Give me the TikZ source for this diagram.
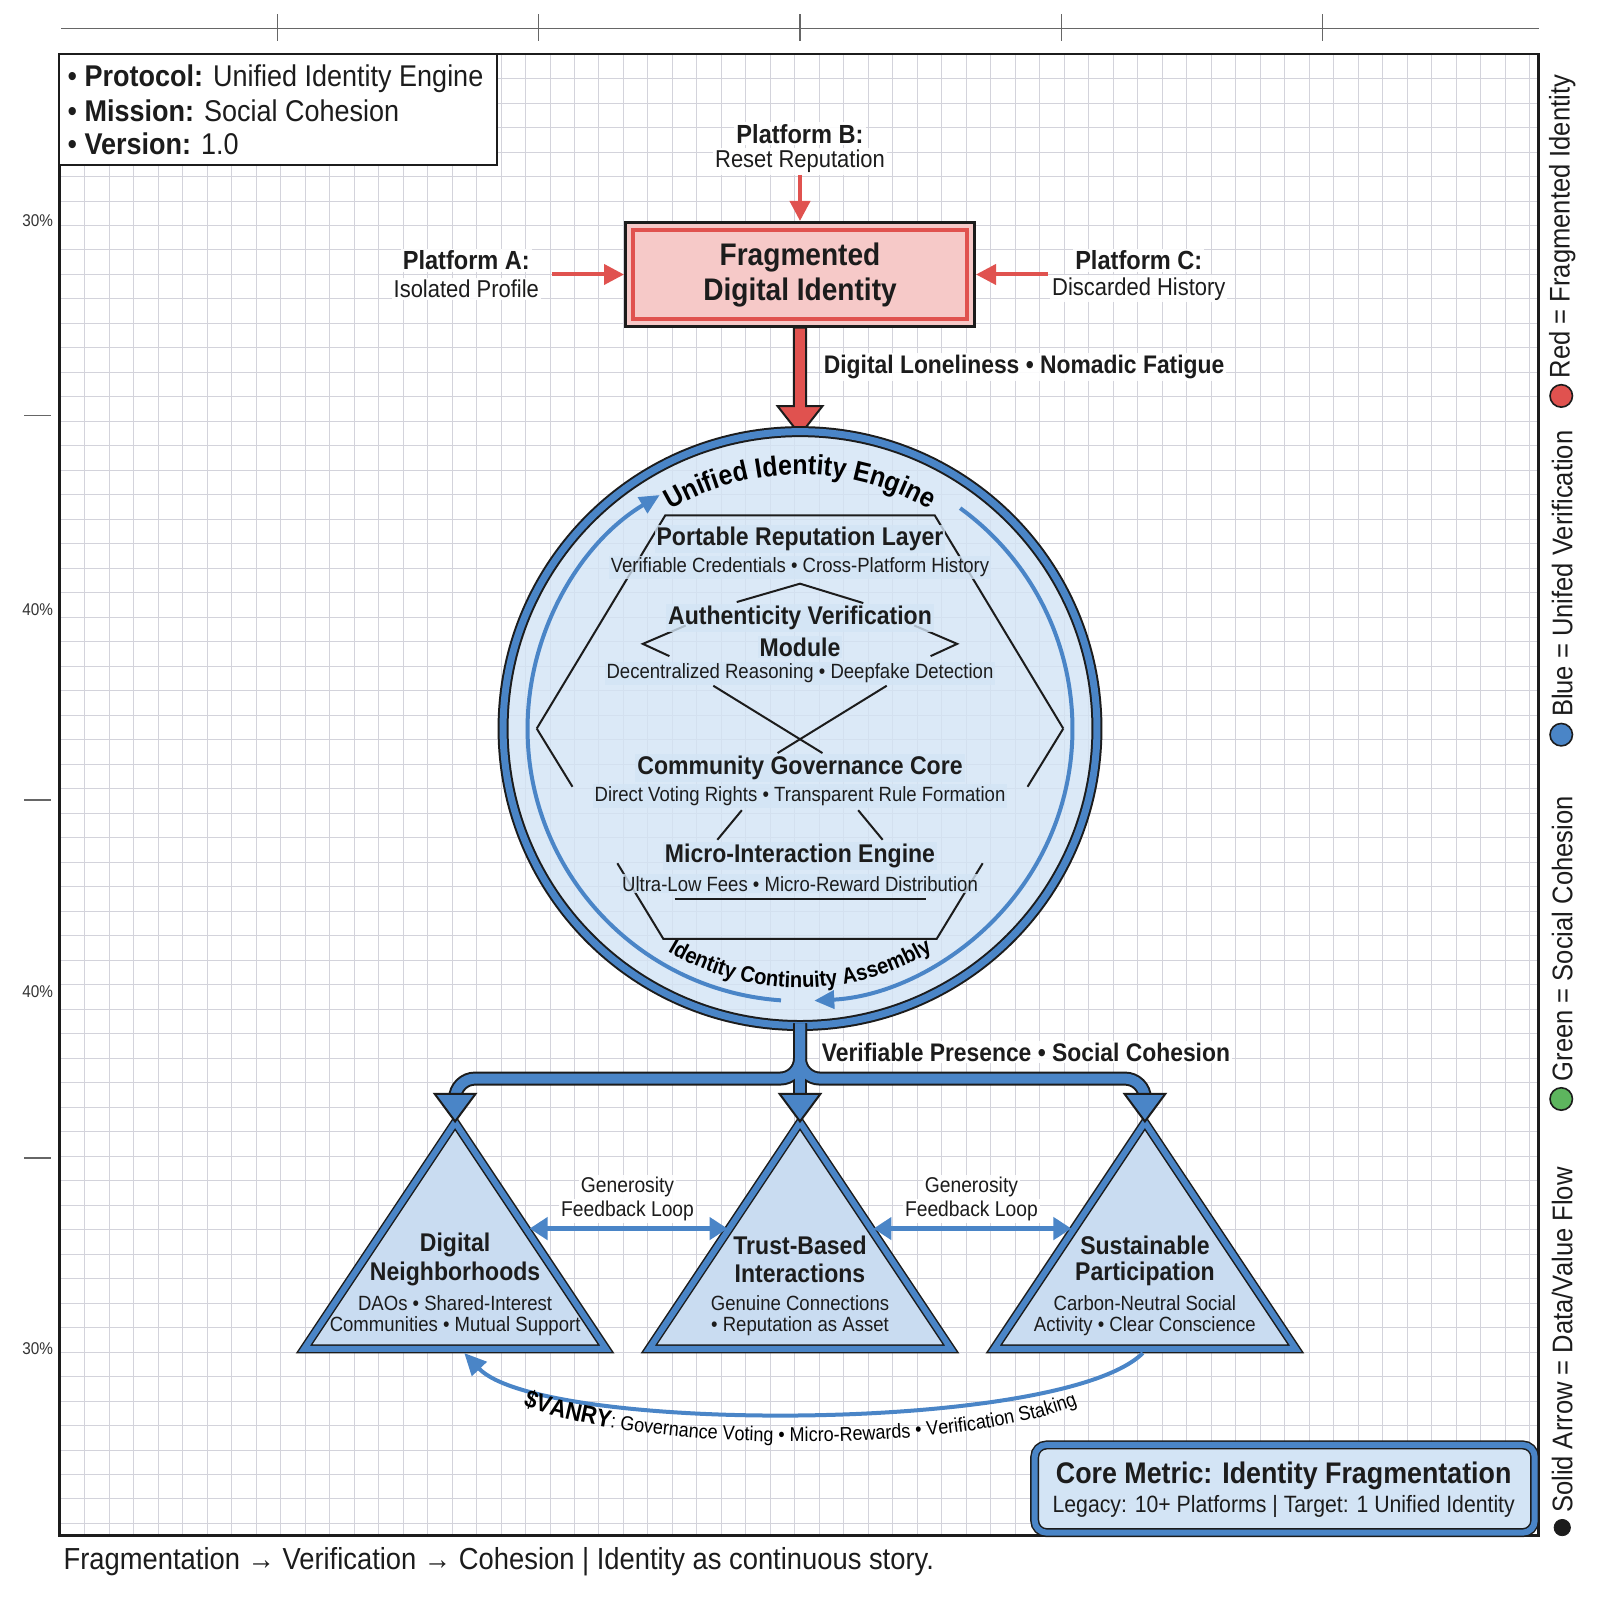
\documentclass[tikz,border=0pt]{standalone}
\usepackage{fontspec}
\setmainfont{Liberation Sans}[FakeStretch=0.9]
\usetikzlibrary{arrows.meta,decorations.text}
\definecolor{gridc}{HTML}{D3D3DB}
\definecolor{ink}{HTML}{1C1C1C}
\definecolor{redc}{HTML}{E0524F}
\definecolor{redfill}{HTML}{F6C9C8}
\definecolor{bluec}{HTML}{4A85C7}
\definecolor{bluefill}{HTML}{D3E4F5}
\definecolor{trifill}{HTML}{C9DCF1}
\definecolor{greenc}{HTML}{5DB55E}
\newcommand\fsz[1]{\fontsize{#1}{\fpeval{1.2*#1}}\selectfont}
\tikzset{
  plt/.style={font=\fsz{13.1}\bfseries},
  pls/.style={font=\fsz{12.2}},
  lbl/.style={font=\fsz{12.7}\bfseries},
  ttl/.style={font=\fsz{12.8}\bfseries},
  sbt/.style={font=\fsz{10.3}},
  gen/.style={font=\fsz{10.7}},
  inbg/.style={fill=bluefill, fill opacity=0.8, text opacity=1},
  wbg/.style={fill=white, fill opacity=0.9, text opacity=1},
  redarrow/.style={redc, line width=2pt, -{Triangle[length=10pt,width=10pt]}},
  hexline/.style={ink, line width=1pt},
  legtext/.style={rotate=90, anchor=west, font=\fsz{14.2}},
}
\begin{document}
\begin{tikzpicture}[x=0.5102pt,y=-0.5102pt, every node/.style={inner sep=1pt,text=ink}]
\useasboundingbox (0,0) rectangle (1568,1568);
\fill[white] (0,0) rectangle (1568,1568);
% grid
\foreach \i in {1,...,60} {\draw[gridc,line width=0.5pt] ({59+24*\i},53) -- ({59+24*\i},1505);}
\foreach \j in {1,...,60} {\draw[gridc,line width=0.5pt] (59,{53+24*\j}) -- (1508,{53+24*\j});}
% frame
\draw[ink,line width=1.4pt] (58,53) rectangle (1508,1505);
% top ruler
\draw[black!60, line width=0.7pt] (60,28) -- (1508,28);
\foreach \x in {272,528,784,1040,1296} {\draw[black!60, line width=0.7pt] (\x,14) -- (\x,40);}
% left ruler
\foreach \y/\t in {216/30\%,597/40\%,972/40\%,1322/30\%} {\node[font=\fsz{8.5}, text=black!80] at (37,\y) {\t};}
\foreach \y in {407,784,1135} {\draw[black!60, line width=0.7pt] (24,\y) -- (50,\y);}
% info box
\draw[ink, fill=white, line width=1.1pt] (58,53) rectangle (487,162);
\node (info1) [anchor=west, font=\fsz{15}] at (64,77) {• \textbf{Protocol:} Unified Identity Engine};
\node (info2) [anchor=west, font=\fsz{15}] at (64,109) {• \textbf{Mission:} Social Cohesion};
\node (info3) [anchor=west, font=\fsz{15}] at (64,141) {• \textbf{Version:} 1.0};
% red box
\node (frag) [draw=ink, line width=1.5pt, fill=redfill, minimum width=174.5pt, minimum height=52pt] at (784,269) {};
\node (fragin) [draw=redc, line width=2.3pt, minimum width=167pt, minimum height=44.5pt] at (784,269) {};
\node (fragt1) [font=\fsz{15.6}\bfseries] at (784,252) {Fragmented};
\node (fragt2) [font=\fsz{15.6}\bfseries] at (784,287) {Digital Identity};
% platforms
\node (pbt) [plt, wbg] at (784,131) {Platform B:};
\node (pbs) [pls, wbg] at (784,158) {Reset Reputation};
\node (pat) [plt, wbg] at (457,255) {Platform A:};
\node (pas) [pls, wbg] at (457,283) {Isolated Profile};
\node (pct) [plt, wbg] at (1116,255) {Platform C:};
\node (pcs) [pls, wbg] at (1116,283) {Discarded History};
\coordinate (pa) at (541,269);
\coordinate (pc) at (1027,269);
\draw[redarrow] (pbs.south) -- (frag.north);
\draw[redarrow] (pa) -- (frag.west);
\draw[redarrow] (pc) -- (frag.east);
% big red arrow
\filldraw[fill=redc, draw=ink, line width=1pt] (778,321) -- (778,398) -- (762,398) -- (784,426) -- (806,398) -- (790,398) -- (790,321) -- cycle;
\node (lone) [anchor=west, lbl, wbg] at (805,360) {Digital Loneliness • Nomadic Fatigue};
% circle
\fill[bluefill, opacity=0.8] (784,714) circle[radius=291];
\draw[ink, line width=5.5pt] (784,714) circle[radius=291];
\draw[bluec, line width=3.5pt] (784,714) circle[radius=291];
\draw[bluec, line width=2pt, -{Triangle[length=10pt,width=9pt]}] (784,714) ++(-54:267) arc[start angle=-54, end angle=87, radius=267];
\draw[bluec, line width=2pt, -{Triangle[length=10pt,width=9pt]}] (784,714) ++(-266:267) arc[start angle=-266, end angle=-121, radius=267];
\path[decorate, decoration={text along path, text align=center, text={|\fsz{13.9}\bfseries|Unified Identity Engine}}] (784,714) ++(-132:249) arc[start angle=-132, end angle=-48, radius=249];
\path[decorate, decoration={text along path, text align=center, text={|\fsz{11.2}\bfseries|Identity Continuity Assembly}}] (784,714) ++(-230:254) arc[start angle=-230, end angle=-310, radius=254];
% hexagon
\draw[hexline] (526,714) -- (652,505) -- (916,505) -- (1042,714);
\draw[hexline] (526,714) -- (561,771);
\draw[hexline] (1042,714) -- (1007,771);
\draw[hexline] (605,846) -- (650,920) -- (918,920) -- (963,846);
% inner connectors
\draw[hexline] (722,590) -- (784,572) -- (846,591);
\draw[hexline] (672,613) -- (630,631) -- (656,643);
\draw[hexline] (896,613) -- (938,631) -- (912,643);
\draw[hexline] (699,672) -- (806,738);
\draw[hexline] (869,672) -- (762,738);
\draw[hexline] (727,794) -- (703,823);
\draw[hexline] (841,794) -- (865,823);
\draw[hexline] (661,881) -- (907,881);
% circle texts
\node (l1t) [ttl, inbg] at (784,528) {Portable Reputation Layer};
\node (l1s) [sbt, inbg] at (784,556) {Verifiable Credentials • Cross-Platform History};
\node (l2t) [ttl, inbg] at (784,606) {Authenticity Verification};
\node (l2m) [ttl, inbg] at (784,634) {Module};
\node (l2s) [sbt, inbg] at (784,660) {Decentralized Reasoning • Deepfake Detection};
\node (l3t) [ttl, inbg] at (784,753) {Community Governance Core};
\node (l3s) [sbt, inbg] at (784,780) {Direct Voting Rights • Transparent Rule Formation};
\node (l4t) [ttl, inbg] at (784,839) {Micro-Interaction Engine};
\node (l4s) [sbt, inbg] at (784,866) {Ultra-Low Fees • Micro-Reward Distribution};
% fork
\foreach \lw/\c in {7pt/ink,5pt/bluec} {
  \draw[\c, line width=\lw, rounded corners=10pt] (784,1003) -- (784,1057) -- (446,1057) -- (446,1078);
  \draw[\c, line width=\lw, rounded corners=10pt] (784,1003) -- (784,1057) -- (1122,1057) -- (1122,1078);
  \draw[\c, line width=\lw] (784,1040) -- (784,1078);
}
\node (pres) [anchor=west, lbl, wbg] at (803,1031) {Verifiable Presence • Social Cohesion};
% triangles
\foreach \cx in {446,784,1122} {
  \filldraw[fill=trifill, draw=ink, line width=4.5pt, line join=miter] (\cx,1100) -- ({\cx+148},1322) -- ({\cx-148},1322) -- cycle;
  \draw[bluec, line width=3pt, line join=miter] (\cx,1100) -- ({\cx+148},1322) -- ({\cx-148},1322) -- cycle;
  \filldraw[fill=bluec, draw=ink, line width=1pt] ({\cx-20},1072) -- ({\cx+20},1072) -- (\cx,1099) -- cycle;
}
\node (t1a) [ttl] at (446,1220) {Digital};
\node (t1b) [ttl] at (446,1248) {Neighborhoods};
\node (t1c) [sbt] at (446,1277) {DAOs • Shared-Interest};
\node (t1d) [sbt] at (446,1300) {Communities • Mutual Support};
\node (t2a) [ttl] at (784,1220) {Trust-Based};
\node (t2b) [ttl] at (784,1248) {Interactions};
\node (t2c) [sbt] at (784,1277) {Genuine Connections};
\node (t2d) [sbt] at (784,1300) {• Reputation as Asset};
\node (t3a) [ttl] at (1122,1220) {Sustainable};
\node (t3b) [ttl] at (1122,1248) {Participation};
\node (t3c) [sbt] at (1122,1277) {Carbon-Neutral Social};
\node (t3d) [sbt] at (1122,1300) {Activity • Clear Conscience};
% generosity
\node (g1a) [gen, wbg] at (615,1163) {Generosity};
\node (g1b) [gen, wbg] at (615,1187) {Feedback Loop};
\node (g2a) [gen, wbg] at (952,1163) {Generosity};
\node (g2b) [gen, wbg] at (952,1187) {Feedback Loop};
\coordinate (ga1) at (519,1204); \coordinate (ga2) at (713,1204);
\coordinate (gb1) at (856,1204); \coordinate (gb2) at (1050,1204);
\draw[bluec, line width=2.5pt, {Triangle[length=9pt,width=11pt]}-{Triangle[length=9pt,width=11pt]}] (ga1) -- (ga2);
\draw[bluec, line width=2.5pt, {Triangle[length=9pt,width=11pt]}-{Triangle[length=9pt,width=11pt]}] (gb1) -- (gb2);
% vanry arrow
\coordinate (vs) at (1120,1326); \coordinate (ve) at (455,1326);
\draw[bluec, line width=2pt, -{Triangle[length=11pt,width=10pt]}] (vs) .. controls (1040,1405) and (530,1405) .. (ve);
\path[decorate, decoration={text along path, text align=center, text={|\fsz{12.3}\bfseries|{\$}VANRY|\mdseries|: Governance Voting • Micro-Rewards • Verification Staking}}] (482,1362) .. controls (583,1430) and (985,1430) .. (1086,1362);
% core metric
\draw[ink, line width=4.5pt, rounded corners=6pt, fill=bluefill] (1014,1416) rectangle (1504,1502);
\draw[bluec, line width=3pt, rounded corners=6pt] (1014,1416) rectangle (1504,1502);
\node (cm1) [font=\fsz{14.9}\bfseries] at (1258,1446) {Core Metric: Identity Fragmentation};
\node (cm2) [font=\fsz{11.8}] at (1258,1476) {Legacy: 10+ Platforms | Target: 1 Unified Identity};
% legend
\filldraw[fill=ink, draw=ink] (1531,1497) circle[radius=8];
\node (leg1) [legtext] at (1531,1485) {Solid Arrow = Data/Value Flow};
\filldraw[fill=greenc, draw=ink, line width=0.8pt] (1530,1077) circle[radius=11];
\node (leg2) [legtext] at (1531,1062) {Green = Social Cohesion};
\filldraw[fill=bluec, draw=ink, line width=0.8pt] (1530,720) circle[radius=11];
\node (leg3) [legtext] at (1531,705) {Blue = Unifed Verification};
\filldraw[fill=redc, draw=ink, line width=0.8pt] (1530,388) circle[radius=11];
\node (leg4) [legtext] at (1531,373) {Red = Fragmented Identity};
% caption
\node (cap) [anchor=west, font=\fsz{15.2}] at (60,1530) {Fragmentation → Verification → Cohesion | Identity as continuous story.};
\end{tikzpicture}
\end{document}
